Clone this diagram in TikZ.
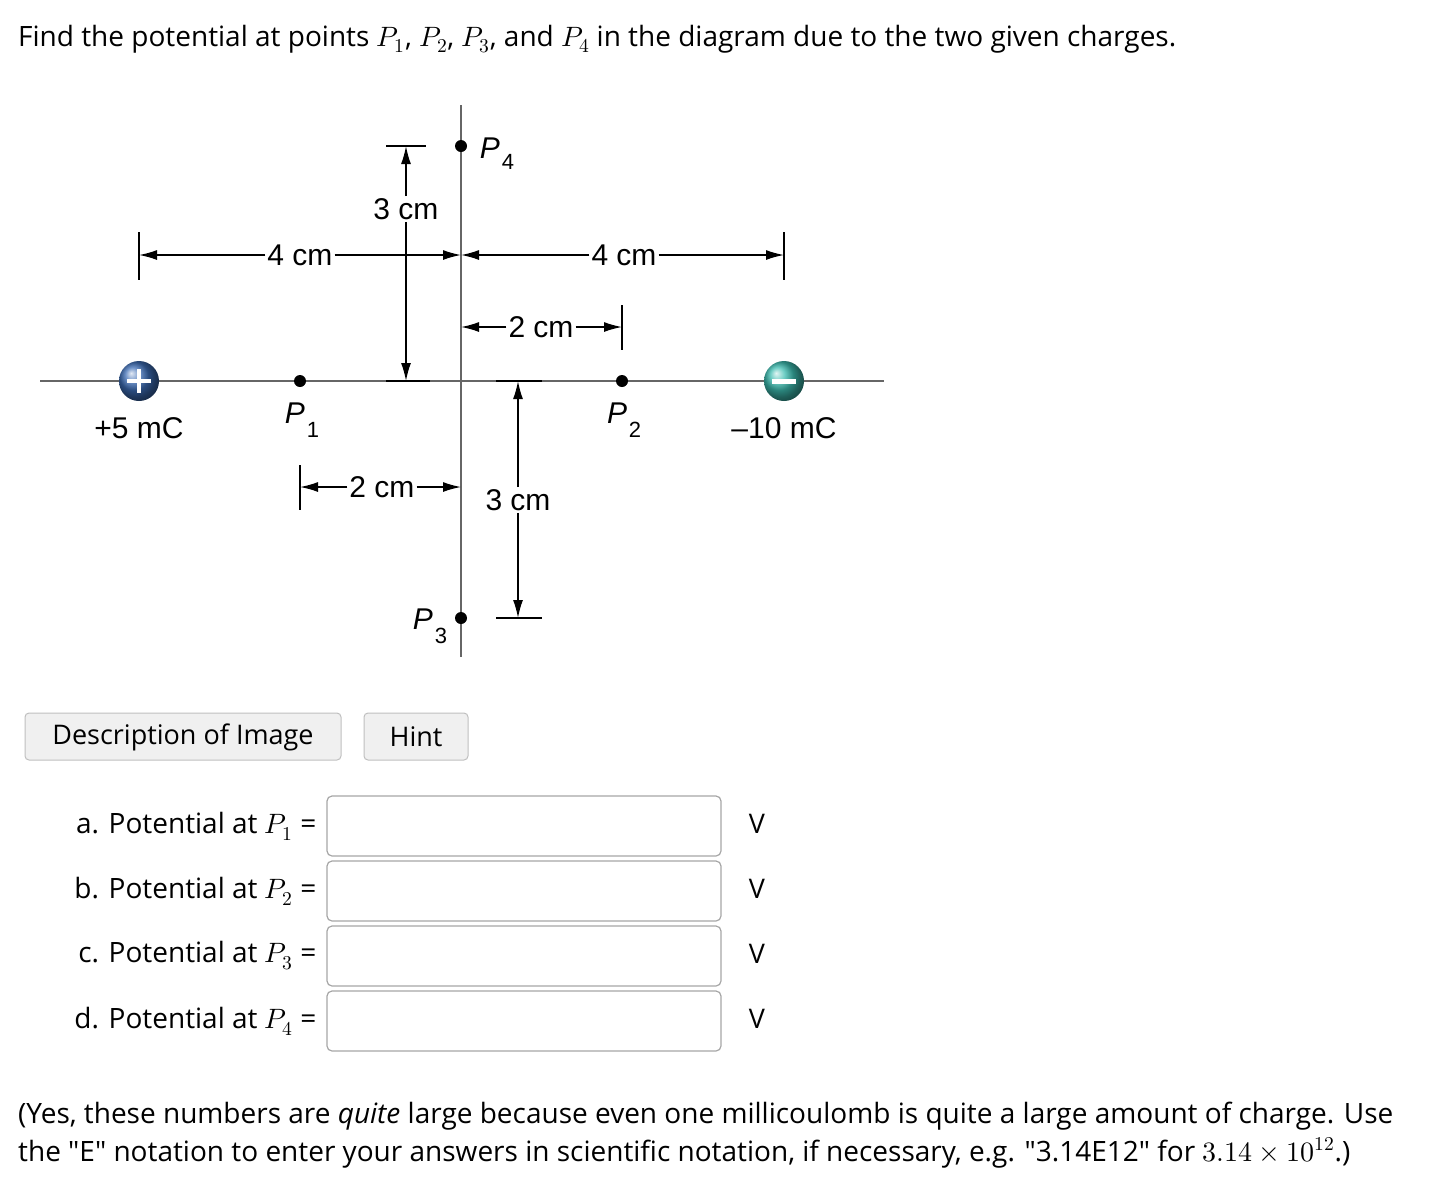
\documentclass[tikz,border=0pt]{standalone}
\usepackage{unicode-math}
\setmathfont{Latin Modern Math}
\setmainfont{Open Sans}[Ligatures=TeXOff]
\newfontfamily\arl{Liberation Sans}
\usetikzlibrary{arrows.meta}
\definecolor{bluech}{HTML}{3C6CB4}
\definecolor{tealch}{HTML}{3CBCB0}
\begin{document}
\begin{tikzpicture}[x=1pt,y=-1pt,
  ln/.style={line width=1.6pt,black},
  ax/.style={line width=1.3pt,gray!80!black},
  dim/.style={line width=1.5pt,-{Latex[length=18pt,width=10pt]}},
  lab/.style={font=\arl\fontsize{30}{30}\selectfont,inner sep=2pt,fill=white},
  sb/.style={font=\arl\fontsize{22}{22}\selectfont},
  dot/.style={circle,fill=black,inner sep=0pt,minimum size=12pt},
  txt/.style={font=\fontsize{28}{30}\selectfont,anchor=base west,inner sep=0pt},
  btn/.style={draw=gray!50,fill=gray!12,rounded corners=4pt,line width=1pt},
  box/.style={draw=gray!70,rounded corners=5pt,line width=1.2pt}]
\useasboundingbox (0,0) rectangle (1436,1187);
\node[txt] (title) at (18,46) {Find the potential at points $P_1$, $P_2$, $P_3$, and $P_4$ in the diagram due to the two given charges.};
% axes
\draw[ax] (40,381) -- (884,381);
\draw[ax] (461,105) -- (461,657);
% points
\node[dot] (p1) at (300,381) {};
\node[dot] (p2) at (622,381) {};
\node[dot] (p3) at (461,618) {};
\node[dot] (p4) at (461,146) {};
\node[lab,fill=none] at (490,148) {\itshape P};
\node[sb] at (508,162) {4};
\node[lab,fill=none] at (295,413) {\itshape P};
\node[sb] at (313,430) {1};
\node[lab,fill=none] at (617,413) {\itshape P};
\node[sb] at (635,430) {2};
\node[lab,fill=none] at (423,619) {\itshape P};
\node[sb] at (441,636) {3};
% charges
\node[circle,inner sep=0pt,minimum size=40pt,ball color=bluech,shading=ball] (qp) at (139,381) {};
\draw[white,line width=4pt] (127,381) -- (151,381) (139,369) -- (139,393);
\node[circle,inner sep=0pt,minimum size=40pt,shading=ball,ball color=tealch] (qm) at (784,381) {};
\draw[white,line width=5pt] (772,381) -- (796,381);
\node[lab,fill=none] at (139,428) {+5 mC};
\node[lab,fill=none] at (784,428) {–10 mC};
% 4cm dims
\draw[ln] (139,232) -- (139,280);
\draw[ln] (784,232) -- (784,280);
\node[lab] (l4a) at (300,255) {4 cm};
\node[lab] (l4b) at (624,255) {4 cm};
\coordinate (a1) at (139,255); \coordinate (a2) at (461,255); \coordinate (a3) at (784,255);
\draw[dim] (l4a) -- (a1);
\draw[dim] (l4a) -- (a2);
\draw[dim] (l4b) -- (a2);
\draw[dim] (l4b) -- (a3);
% top 3cm
\draw[ln] (386,146) -- (426,146);
\draw[ln] (386,381) -- (430,381);
\node[lab,fill=none] (l3a) at (406,209) {3 cm};
\draw[dim] (l3a.north) -- (406,146);
\draw[dim] (l3a.south) -- (406,381);
% top 2cm
\draw[ln] (622,305) -- (622,350);
\node[lab] (l2a) at (541,327) {2 cm};
\draw[dim] (l2a) -- (461,327);
\draw[dim] (l2a) -- (622,327);
% bottom 2cm
\draw[ln] (300,465) -- (300,510);
\node[lab] (l2b) at (382,487) {2 cm};
\draw[dim] (l2b) -- (300,487);
\draw[dim] (l2b) -- (461,487);
% bottom 3cm
\draw[ln] (496,381) -- (542,381);
\draw[ln] (496,618) -- (542,618);
\node[lab] (l3b) at (518,500) {3 cm};
\draw[dim] (l3b) -- (518,381);
\draw[dim] (l3b) -- (518,618);
% buttons
\draw[btn] (25,713) rectangle (341,760);
\node[font=\fontsize{27}{30}\selectfont] (b1) at (183,737) {Description of Image};
\draw[btn] (364,713) rectangle (468,760);
\node[font=\fontsize{27}{30}\selectfont] (b2) at (416,737) {Hint};
% answers
\foreach \l/\i/\y in {a/1/826, b/2/891, c/3/956, d/4/1021}{
  \node[font=\fontsize{28}{30}\selectfont,anchor=east] at (320,\y) {\l. Potential at $P_\i$ =};
  \draw[box] (327,\y-30) rectangle (721,\y+30);
  \node[font=\fontsize{27}{30}\selectfont] at (757,\y-2) {V};
}
\node[txt] at (18,1123) {(Yes, these numbers are \textit{quite} large because even one millicoulomb is quite a large amount of charge. Use};
\node[txt] at (18,1161) {the "E" notation to enter your answers in scientific notation, if necessary, e.g. "3.14E12" for $3.14\times10^{12}$.)};
\end{tikzpicture}
\end{document}
